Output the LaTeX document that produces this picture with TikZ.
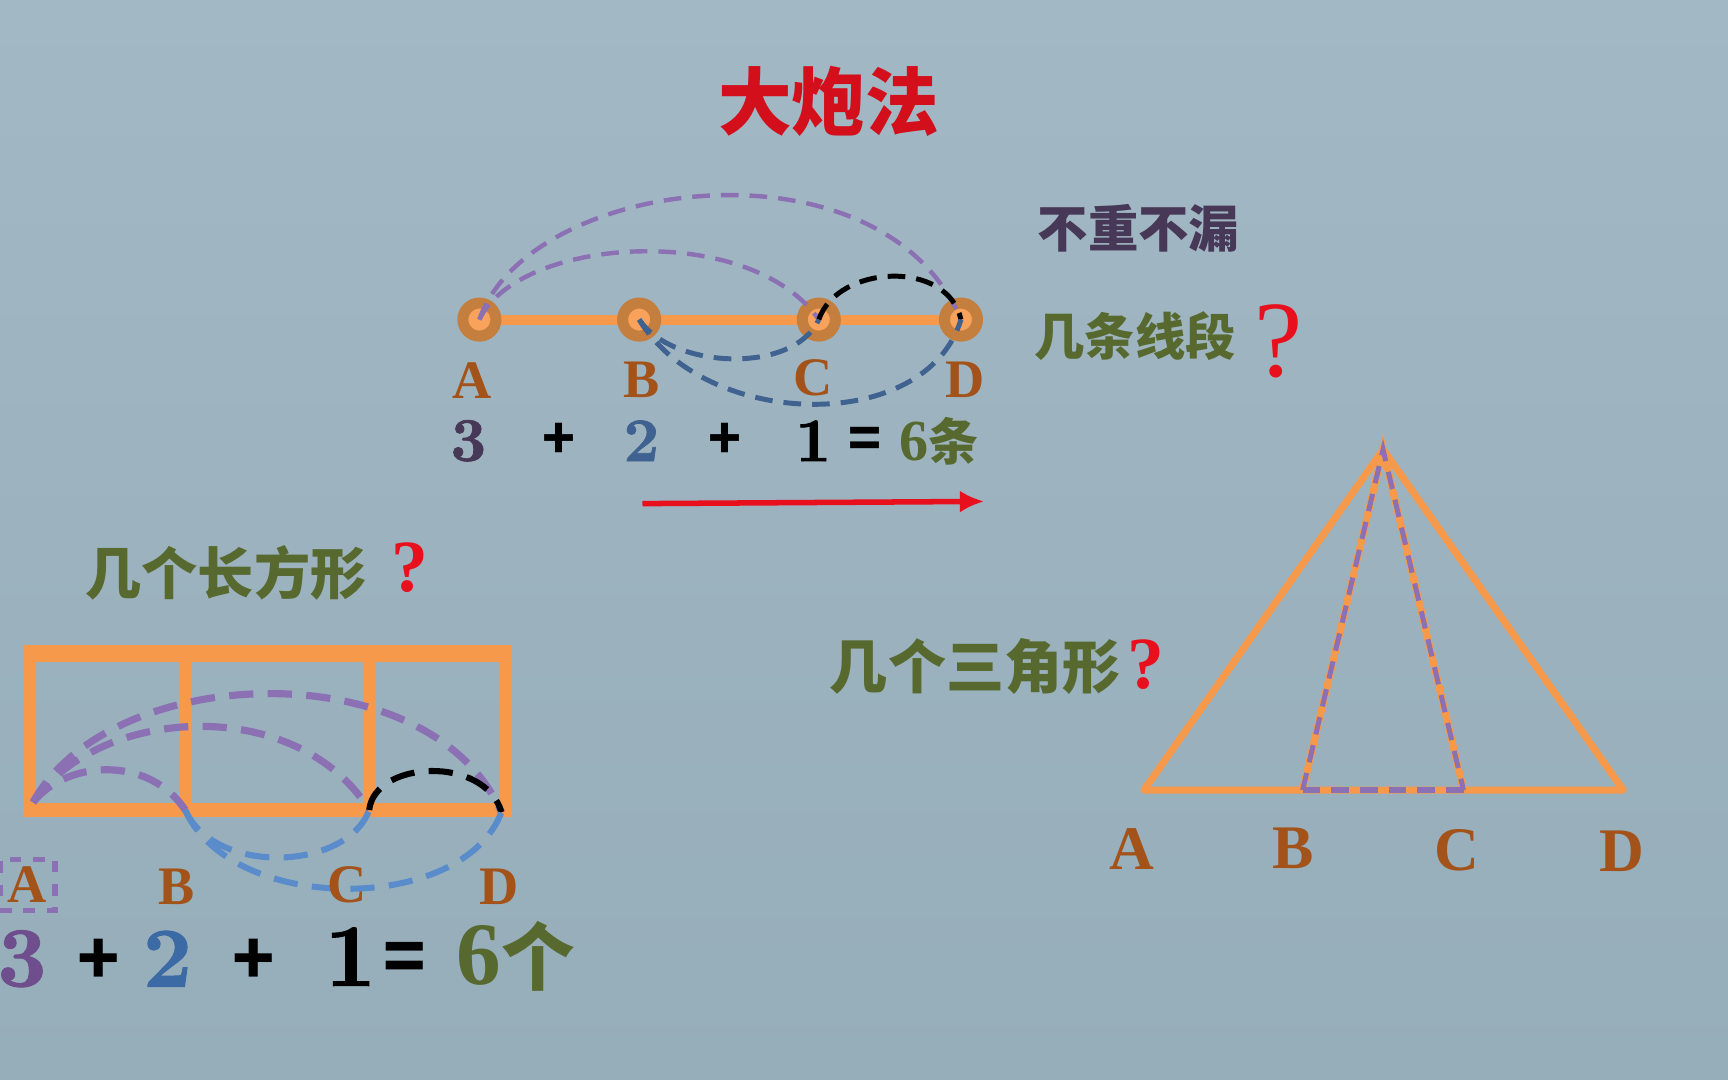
\documentclass[tikz,border=0pt]{standalone}
\usepackage{fontspec}
\newfontfamily\cjk{Noto Sans CJK SC}
\newfontfamily\lat{Liberation Serif}
\newfontfamily\heavy{lmroman10-bold.otf}[FakeBold=1.2]
\usetikzlibrary{arrows.meta}
\definecolor{bgtop}{HTML}{A2B8C4}
\definecolor{bgbot}{HTML}{96AEBA}
\definecolor{segorange}{HTML}{F7994A}
\definecolor{dotring}{HTML}{C47F3E}
\definecolor{dotin}{HTML}{F9A25C}
\definecolor{labbrown}{HTML}{A3531A}
\definecolor{olive}{HTML}{57692E}
\definecolor{plum}{HTML}{473857}
\definecolor{titlered}{HTML}{D20F1B}
\definecolor{qred}{HTML}{E8101C}
\definecolor{lilac}{HTML}{8B70B3}
\definecolor{steel}{HTML}{3F6290}
\definecolor{sky}{HTML}{5A8CCB}
\definecolor{sumpurple}{HTML}{6E4E8C}
\definecolor{sumblue}{HTML}{3C6AA5}
\tikzset{
  dot/.style={circle,fill=dotin,draw=dotring,line width=0.1cm,minimum size=0.3cm,inner sep=0pt},
  lab/.style={text=labbrown,font=\lat\bfseries\fontsize{14}{14}\selectfont},
  biglab/.style={text=labbrown,font=\lat\bfseries\fontsize{16}{16}\selectfont},
  hz/.style={font=\cjk\bfseries\fontsize{#1}{#1}\selectfont},
  num/.style={font=\heavy\fontsize{#1}{#1}\selectfont},
  dsh/.style={dash pattern=on 0.16cm off 0.1cm},
  bigdsh/.style={dash pattern=on 0.22cm off 0.13cm},
}
\begin{document}
\begin{tikzpicture}[x=0.01cm,y=-0.01cm]
\shade[top color=bgtop,bottom color=bgbot] (0,0) rectangle (1568,980);
\useasboundingbox (0,0) rectangle (1568,980);
% title
\node[hz=19,text=titlered] (ttl) at (752,92) {大炮法};
\node[hz=13,text=plum] (rule) at (1033,207) {不重不漏};
\node[hz=13,text=olive] (qseg) at (1030,305) {几条线段};
\node[font=\lat\fontsize{28}{28}\selectfont,text=qred] (qsegmark) at (1160,310) {?};
% segment A B C D
\coordinate (pA) at (435,290); \coordinate (pB) at (580,290);
\coordinate (pC) at (743,290); \coordinate (pD) at (872,290);
\draw[segorange,line width=0.09cm] (pA) -- (pD);
\node[dot] (A) at (pA) {}; \node[dot] (B) at (pB) {};
\node[dot] (C) at (pC) {}; \node[dot] (D) at (pD) {};
\draw[lilac,line width=0.04cm,dsh] (A.center) .. controls (480,160) and (800,120) .. (D.center);
\draw[lilac,line width=0.04cm,dsh] (A.center) .. controls (470,215) and (680,200) .. (C.center);
\draw[black,line width=0.045cm,dsh] (C.center) .. controls (760,240) and (860,235) .. (D.center);
\draw[steel,line width=0.045cm,dsh] (B.center) .. controls (610,335) and (720,340) .. (C.center);
\draw[steel,line width=0.045cm,dsh] (B.center) .. controls (640,390) and (840,395) .. (D.center);
\node[lab] (labA) at (428,345) {A}; \node[lab] (labB) at (582,345) {B};
\node[lab] (labC) at (738,343) {C}; \node[lab] (labD) at (876,345) {D};
\node[num=16,text=plum] (sa) at (425,400) {3};
\node[hz=14] (pa) at (507,400) {+};
\node[num=16,text=steel] (sb) at (582,400) {2};
\node[hz=14] (pb) at (658,400) {+};
\node[num=16] (sc) at (738,400) {1};
\node[hz=14] (eq) at (785,402) {=};
\node[hz=13,text=olive] (tot) at (852,400) {\lat\bfseries\fontsize{15}{15}\selectfont 6\cjk\fontsize{13}{13}\selectfont 条};
\coordinate (arrS) at (583,457); \coordinate (arrE) at (893,455);
\draw[qred,line width=0.05cm,-{Latex[length=0.22cm,width=0.2cm]}] (arrS) -- (arrE);
% rectangles
\node[hz=14.5,text=olive] (qrect) at (205,520) {几个长方形};
\node[font=\lat\bfseries\fontsize{19}{19}\selectfont,text=qred] (qrectmark) at (372,515) {?};
\coordinate (rA) at (27,735); \coordinate (rB) at (168,735);
\coordinate (rC) at (335,735); \coordinate (rD) at (459,735);
\draw[segorange,line width=0.12cm] (rA) -- (27,593) (rB) -- (168,593) (rC) -- (335,593) (rD) -- (459,593);
\draw[segorange,line width=0.16cm] (21,593) -- (465,593);
\draw[segorange,line width=0.13cm] (21,735) -- (465,735);
\draw[lilac,line width=0.065cm,bigdsh] (30,728) .. controls (100,600) and (390,590) .. (455,737);
\draw[lilac,line width=0.065cm,bigdsh] (30,728) .. controls (90,640) and (270,630) .. (rC);
\draw[lilac,line width=0.065cm,bigdsh] (30,728) .. controls (60,690) and (135,685) .. (rB);
\draw[black,line width=0.055cm,bigdsh] (rC) .. controls (340,690) and (440,685) .. (455,737);
\draw[sky,line width=0.055cm,bigdsh] (rB) .. controls (195,795) and (315,790) .. (rC);
\draw[sky,line width=0.055cm,bigdsh] (rB) .. controls (210,830) and (420,830) .. (455,737);
\node[lab,draw=lilac,dashed,line width=0.05cm,inner sep=2pt] (rlabA) at (25,803) {A};
\node[lab] (rlabB) at (160,805) {B};
\node[lab] (rlabC) at (315,803) {C};
\node[lab] (rlabD) at (453,805) {D};
\node[num=22,text=sumpurple] (ra) at (20,870) {3};
\node[hz=18] (rpa) at (90,873) {+};
\node[num=22,text=sumblue] (rb) at (152,870) {2};
\node[hz=18] (rpb) at (230,873) {+};
\node[num=23] (rc) at (318,868) {1};
\node[hz=18] (req) at (367,873) {=};
\node[hz=18.5,text=olive] (rtot) at (468,868) {\lat\bfseries\fontsize{23}{23}\selectfont 6\cjk\fontsize{19}{19}\selectfont 个};
% triangles
\node[hz=15,text=olive] (qtri) at (885,605) {几个三角形};
\node[font=\lat\bfseries\fontsize{19}{19}\selectfont,text=qred] (qtrimark) at (1040,603) {?};
\coordinate (tO) at (1255,408);
\coordinate (tA) at (1038,717); \coordinate (tB) at (1182,717);
\coordinate (tC) at (1328,717); \coordinate (tD) at (1473,717);
\draw[segorange,line width=0.065cm,line join=round] (tA) -- (tO) -- (tD) -- cycle;
\draw[segorange,line width=0.065cm] (tB) -- (tO) -- (tC);
\draw[lilac,line width=0.045cm,dsh] (tB) -- (tO) -- (tC);
\draw[lilac,line width=0.055cm,dsh] (tB) -- (tC);
\node[biglab] (tlabA) at (1027,770) {A}; \node[biglab] (tlabB) at (1173,770) {B};
\node[biglab] (tlabC) at (1322,772) {C}; \node[biglab] (tlabD) at (1472,772) {D};
\end{tikzpicture}
\end{document}
